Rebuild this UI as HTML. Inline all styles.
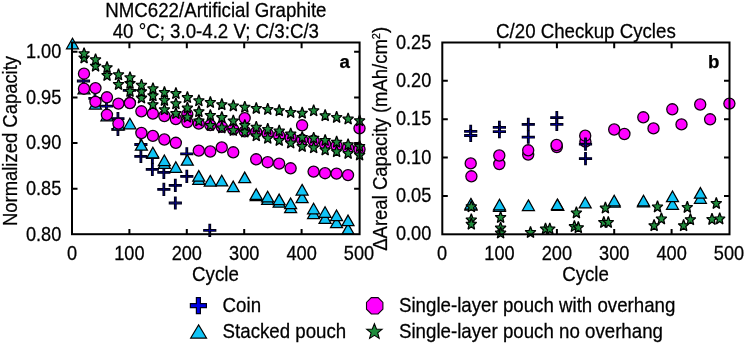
<!DOCTYPE html>
<html><head><meta charset="utf-8"><style>
html,body{margin:0;padding:0;background:#fff;}
svg{display:block;filter:blur(0.3px);}
text{font-family:"Liberation Sans",sans-serif;font-size:18.7px;fill:#000;stroke:#000;stroke-width:0.25px;}
</style></head><body>
<svg width="745" height="352" viewBox="0 0 745 352">
<style>
.pl{fill:#0000e8;stroke:#000018;stroke-width:1.2px}
.tr{fill:#10c4f6;stroke:#000;stroke-width:1.25px;stroke-linejoin:miter}
.ci{fill:#ff00ff;stroke:#100010;stroke-width:1.3px}
.st{fill:#1f8c3c;stroke:#000;stroke-width:1.25px;stroke-linejoin:miter;stroke-miterlimit:2.6}
</style>
<g><polygon class="pl" points="82.68,75.00 84.28,75.00 84.28,80.20 89.48,80.20 89.48,81.80 84.28,81.80 84.28,87.00 82.68,87.00 82.68,81.80 77.48,81.80 77.48,80.20 82.68,80.20"/>
<polygon class="pl" points="94.16,92.40 95.76,92.40 95.76,97.60 100.96,97.60 100.96,99.20 95.76,99.20 95.76,104.40 94.16,104.40 94.16,99.20 88.96,99.20 88.96,97.60 94.16,97.60"/>
<polygon class="pl" points="105.64,100.20 107.24,100.20 107.24,105.40 112.44,105.40 112.44,107.00 107.24,107.00 107.24,112.20 105.64,112.20 105.64,107.00 100.44,107.00 100.44,105.40 105.64,105.40"/>
<polygon class="pl" points="117.12,112.60 118.72,112.60 118.72,117.80 123.92,117.80 123.92,119.40 118.72,119.40 118.72,124.60 117.12,124.60 117.12,119.40 111.92,119.40 111.92,117.80 117.12,117.80"/>
<polygon class="pl" points="117.12,123.30 118.72,123.30 118.72,128.50 123.92,128.50 123.92,130.10 118.72,130.10 118.72,135.30 117.12,135.30 117.12,130.10 111.92,130.10 111.92,128.50 117.12,128.50"/>
<polygon class="pl" points="128.60,84.30 130.20,84.30 130.20,89.50 135.40,89.50 135.40,91.10 130.20,91.10 130.20,96.30 128.60,96.30 128.60,91.10 123.40,91.10 123.40,89.50 128.60,89.50"/>
<polygon class="pl" points="140.08,138.50 141.68,138.50 141.68,143.70 146.88,143.70 146.88,145.30 141.68,145.30 141.68,150.50 140.08,150.50 140.08,145.30 134.88,145.30 134.88,143.70 140.08,143.70"/>
<polygon class="pl" points="140.08,150.40 141.68,150.40 141.68,155.60 146.88,155.60 146.88,157.20 141.68,157.20 141.68,162.40 140.08,162.40 140.08,157.20 134.88,157.20 134.88,155.60 140.08,155.60"/>
<polygon class="pl" points="151.56,151.50 153.16,151.50 153.16,156.70 158.36,156.70 158.36,158.30 153.16,158.30 153.16,163.50 151.56,163.50 151.56,158.30 146.36,158.30 146.36,156.70 151.56,156.70"/>
<polygon class="pl" points="151.56,163.40 153.16,163.40 153.16,168.60 158.36,168.60 158.36,170.20 153.16,170.20 153.16,175.40 151.56,175.40 151.56,170.20 146.36,170.20 146.36,168.60 151.56,168.60"/>
<polygon class="pl" points="163.04,166.40 164.64,166.40 164.64,171.60 169.84,171.60 169.84,173.20 164.64,173.20 164.64,178.40 163.04,178.40 163.04,173.20 157.84,173.20 157.84,171.60 163.04,171.60"/>
<polygon class="pl" points="163.04,183.40 164.64,183.40 164.64,188.60 169.84,188.60 169.84,190.20 164.64,190.20 164.64,195.40 163.04,195.40 163.04,190.20 157.84,190.20 157.84,188.60 163.04,188.60"/>
<polygon class="pl" points="174.52,179.40 176.12,179.40 176.12,184.60 181.32,184.60 181.32,186.20 176.12,186.20 176.12,191.40 174.52,191.40 174.52,186.20 169.32,186.20 169.32,184.60 174.52,184.60"/>
<polygon class="pl" points="174.52,197.00 176.12,197.00 176.12,202.20 181.32,202.20 181.32,203.80 176.12,203.80 176.12,209.00 174.52,209.00 174.52,203.80 169.32,203.80 169.32,202.20 174.52,202.20"/>
<polygon class="pl" points="186.00,147.80 187.60,147.80 187.60,153.00 192.80,153.00 192.80,154.60 187.60,154.60 187.60,159.80 186.00,159.80 186.00,154.60 180.80,154.60 180.80,153.00 186.00,153.00"/>
<polygon class="pl" points="186.00,170.40 187.60,170.40 187.60,175.60 192.80,175.60 192.80,177.20 187.60,177.20 187.60,182.40 186.00,182.40 186.00,177.20 180.80,177.20 180.80,175.60 186.00,175.60"/>
<polygon class="pl" points="208.96,224.30 210.56,224.30 210.56,229.50 215.76,229.50 215.76,231.10 210.56,231.10 210.56,236.30 208.96,236.30 208.96,231.10 203.76,231.10 203.76,229.50 208.96,229.50"/>
<polygon class="tr" points="348.02,223.60 354.02,234.20 342.02,234.20"/>
<polygon class="tr" points="336.54,217.10 342.54,227.70 330.54,227.70"/>
<polygon class="tr" points="348.02,215.10 354.02,225.70 342.02,225.70"/>
<polygon class="tr" points="325.06,212.80 331.06,223.40 319.06,223.40"/>
<polygon class="tr" points="336.54,210.00 342.54,220.60 330.54,220.60"/>
<polygon class="tr" points="313.58,208.00 319.58,218.60 307.58,218.60"/>
<polygon class="tr" points="325.06,206.70 331.06,217.30 319.06,217.30"/>
<polygon class="tr" points="313.58,203.20 319.58,213.80 307.58,213.80"/>
<polygon class="tr" points="290.62,202.00 296.62,212.60 284.62,212.60"/>
<polygon class="tr" points="290.62,198.00 296.62,208.60 284.62,208.60"/>
<polygon class="tr" points="279.14,196.60 285.14,207.20 273.14,207.20"/>
<polygon class="tr" points="279.14,194.10 285.14,204.70 273.14,204.70"/>
<polygon class="tr" points="267.66,193.80 273.66,204.40 261.66,204.40"/>
<polygon class="tr" points="302.10,192.10 308.10,202.70 296.10,202.70"/>
<polygon class="tr" points="267.66,191.30 273.66,201.90 261.66,201.90"/>
<polygon class="tr" points="256.18,190.10 262.18,200.70 250.18,200.70"/>
<polygon class="tr" points="256.18,188.80 262.18,199.40 250.18,199.40"/>
<polygon class="tr" points="302.10,184.40 308.10,195.00 296.10,195.00"/>
<polygon class="tr" points="233.22,181.10 239.22,191.70 227.22,191.70"/>
<polygon class="tr" points="210.26,175.40 216.26,186.00 204.26,186.00"/>
<polygon class="tr" points="221.74,175.30 227.74,185.90 215.74,185.90"/>
<polygon class="tr" points="198.78,173.80 204.78,184.40 192.78,184.40"/>
<polygon class="tr" points="244.70,172.10 250.70,182.70 238.70,182.70"/>
<polygon class="tr" points="198.78,170.60 204.78,181.20 192.78,181.20"/>
<polygon class="tr" points="175.82,161.80 181.82,172.40 169.82,172.40"/>
<polygon class="tr" points="164.34,157.80 170.34,168.40 158.34,168.40"/>
<polygon class="tr" points="164.34,155.00 170.34,165.60 158.34,165.60"/>
<polygon class="tr" points="187.30,154.60 193.30,165.20 181.30,165.20"/>
<polygon class="tr" points="152.86,147.30 158.86,157.90 146.86,157.90"/>
<polygon class="tr" points="141.38,139.60 147.38,150.20 135.38,150.20"/>
<polygon class="tr" points="118.42,119.30 124.42,129.90 112.42,129.90"/>
<polygon class="tr" points="129.90,118.20 135.90,128.80 123.90,128.80"/>
<polygon class="tr" points="106.94,110.20 112.94,120.80 100.94,120.80"/>
<polygon class="tr" points="95.46,98.50 101.46,109.10 89.46,109.10"/>
<polygon class="tr" points="83.98,83.30 89.98,93.90 77.98,93.90"/>
<polygon class="tr" points="72.50,38.20 78.50,48.80 66.50,48.80"/>
<circle class="ci" cx="83.98" cy="88.70" r="5.55"/>
<circle class="ci" cx="95.46" cy="101.80" r="5.55"/>
<circle class="ci" cx="106.94" cy="114.80" r="5.55"/>
<circle class="ci" cx="118.42" cy="123.60" r="5.55"/>
<circle class="ci" cx="141.38" cy="133.00" r="5.55"/>
<circle class="ci" cx="152.86" cy="135.90" r="5.55"/>
<circle class="ci" cx="164.34" cy="139.50" r="5.55"/>
<circle class="ci" cx="175.82" cy="142.80" r="5.55"/>
<circle class="ci" cx="198.78" cy="150.60" r="5.55"/>
<circle class="ci" cx="210.26" cy="151.50" r="5.55"/>
<circle class="ci" cx="221.74" cy="147.40" r="5.55"/>
<circle class="ci" cx="233.22" cy="152.30" r="5.55"/>
<circle class="ci" cx="256.18" cy="159.30" r="5.55"/>
<circle class="ci" cx="267.66" cy="162.20" r="5.55"/>
<circle class="ci" cx="279.14" cy="163.60" r="5.55"/>
<circle class="ci" cx="290.62" cy="168.30" r="5.55"/>
<circle class="ci" cx="313.58" cy="171.60" r="5.55"/>
<circle class="ci" cx="325.06" cy="173.20" r="5.55"/>
<circle class="ci" cx="336.54" cy="173.60" r="5.55"/>
<circle class="ci" cx="348.02" cy="175.10" r="5.55"/>
<circle class="ci" cx="83.98" cy="73.70" r="5.55"/>
<circle class="ci" cx="95.46" cy="88.10" r="5.55"/>
<circle class="ci" cx="106.94" cy="97.30" r="5.55"/>
<circle class="ci" cx="118.42" cy="103.60" r="5.55"/>
<circle class="ci" cx="129.90" cy="102.80" r="5.55"/>
<circle class="ci" cx="141.38" cy="111.30" r="5.55"/>
<circle class="ci" cx="152.86" cy="113.60" r="5.55"/>
<circle class="ci" cx="164.34" cy="116.00" r="5.55"/>
<circle class="ci" cx="175.82" cy="119.00" r="5.55"/>
<circle class="ci" cx="187.30" cy="122.10" r="5.55"/>
<circle class="ci" cx="198.78" cy="123.60" r="5.55"/>
<circle class="ci" cx="210.26" cy="125.10" r="5.55"/>
<circle class="ci" cx="221.74" cy="126.80" r="5.55"/>
<circle class="ci" cx="233.22" cy="129.30" r="5.55"/>
<circle class="ci" cx="244.70" cy="131.40" r="5.55"/>
<circle class="ci" cx="256.18" cy="132.20" r="5.55"/>
<circle class="ci" cx="267.66" cy="133.90" r="5.55"/>
<circle class="ci" cx="279.14" cy="135.60" r="5.55"/>
<circle class="ci" cx="290.62" cy="137.50" r="5.55"/>
<circle class="ci" cx="302.10" cy="139.80" r="5.55"/>
<circle class="ci" cx="313.58" cy="140.80" r="5.55"/>
<circle class="ci" cx="325.06" cy="144.10" r="5.55"/>
<circle class="ci" cx="336.54" cy="145.80" r="5.55"/>
<circle class="ci" cx="348.02" cy="147.80" r="5.55"/>
<circle class="ci" cx="359.50" cy="149.30" r="5.55"/>
<circle class="ci" cx="129.90" cy="103.10" r="5.55"/>
<circle class="ci" cx="187.30" cy="114.30" r="5.55"/>
<circle class="ci" cx="244.70" cy="118.10" r="5.55"/>
<circle class="ci" cx="302.10" cy="125.30" r="5.55"/>
<circle class="ci" cx="359.50" cy="128.30" r="5.55"/>
<polygon class="st" points="130.00,85.24 131.41,89.26 135.33,89.50 132.28,92.22 133.29,96.38 130.00,94.04 126.71,96.38 127.72,92.22 124.67,89.50 128.59,89.26"/>
<polygon class="st" points="141.48,91.94 142.89,95.96 146.81,96.20 143.76,98.92 144.77,103.08 141.48,100.74 138.19,103.08 139.20,98.92 136.15,96.20 140.07,95.96"/>
<polygon class="st" points="152.96,98.54 154.37,102.56 158.29,102.80 155.24,105.52 156.25,109.68 152.96,107.34 149.67,109.68 150.68,105.52 147.63,102.80 151.55,102.56"/>
<polygon class="st" points="164.44,103.64 165.85,107.66 169.77,107.90 166.72,110.62 167.73,114.78 164.44,112.44 161.15,114.78 162.16,110.62 159.11,107.90 163.03,107.66"/>
<polygon class="st" points="175.92,107.44 177.33,111.46 181.25,111.70 178.20,114.42 179.21,118.58 175.92,116.24 172.63,118.58 173.64,114.42 170.59,111.70 174.51,111.46"/>
<polygon class="st" points="187.40,111.04 188.81,115.06 192.73,115.30 189.68,118.02 190.69,122.18 187.40,119.84 184.11,122.18 185.12,118.02 182.07,115.30 185.99,115.06"/>
<polygon class="st" points="198.88,114.84 200.29,118.86 204.21,119.10 201.16,121.82 202.17,125.98 198.88,123.64 195.59,125.98 196.60,121.82 193.55,119.10 197.47,118.86"/>
<polygon class="st" points="210.36,119.34 211.77,123.36 215.69,123.60 212.64,126.32 213.65,130.48 210.36,128.14 207.07,130.48 208.08,126.32 205.03,123.60 208.95,123.36"/>
<polygon class="st" points="221.84,121.74 223.25,125.76 227.17,126.00 224.12,128.72 225.13,132.88 221.84,130.54 218.55,132.88 219.56,128.72 216.51,126.00 220.43,125.76"/>
<polygon class="st" points="233.32,124.24 234.73,128.26 238.65,128.50 235.60,131.22 236.61,135.38 233.32,133.04 230.03,135.38 231.04,131.22 227.99,128.50 231.91,128.26"/>
<polygon class="st" points="244.80,125.94 246.21,129.96 250.13,130.20 247.08,132.92 248.09,137.08 244.80,134.74 241.51,137.08 242.52,132.92 239.47,130.20 243.39,129.96"/>
<polygon class="st" points="256.28,129.64 257.69,133.66 261.61,133.90 258.56,136.62 259.57,140.78 256.28,138.44 252.99,140.78 254.00,136.62 250.95,133.90 254.87,133.66"/>
<polygon class="st" points="267.76,132.14 269.17,136.16 273.09,136.40 270.04,139.12 271.05,143.28 267.76,140.94 264.47,143.28 265.48,139.12 262.43,136.40 266.35,136.16"/>
<polygon class="st" points="279.24,134.34 280.65,138.36 284.57,138.60 281.52,141.32 282.53,145.48 279.24,143.14 275.95,145.48 276.96,141.32 273.91,138.60 277.83,138.36"/>
<polygon class="st" points="290.72,136.94 292.13,140.96 296.05,141.20 293.00,143.92 294.01,148.08 290.72,145.74 287.43,148.08 288.44,143.92 285.39,141.20 289.31,140.96"/>
<polygon class="st" points="302.20,140.34 303.61,144.36 307.53,144.60 304.48,147.32 305.49,151.48 302.20,149.14 298.91,151.48 299.92,147.32 296.87,144.60 300.79,144.36"/>
<polygon class="st" points="313.68,141.64 315.09,145.66 319.01,145.90 315.96,148.62 316.97,152.78 313.68,150.44 310.39,152.78 311.40,148.62 308.35,145.90 312.27,145.66"/>
<polygon class="st" points="325.16,143.84 326.57,147.86 330.49,148.10 327.44,150.82 328.45,154.98 325.16,152.64 321.87,154.98 322.88,150.82 319.83,148.10 323.75,147.86"/>
<polygon class="st" points="336.64,145.54 338.05,149.56 341.97,149.80 338.92,152.52 339.93,156.68 336.64,154.34 333.35,156.68 334.36,152.52 331.31,149.80 335.23,149.56"/>
<polygon class="st" points="348.12,147.24 349.53,151.26 353.45,151.50 350.40,154.22 351.41,158.38 348.12,156.04 344.83,158.38 345.84,154.22 342.79,151.50 346.71,151.26"/>
<polygon class="st" points="359.60,148.94 361.01,152.96 364.93,153.20 361.88,155.92 362.89,160.08 359.60,157.74 356.31,160.08 357.32,155.92 354.27,153.20 358.19,152.96"/>
<polygon class="st" points="84.08,51.84 85.49,55.86 89.41,56.10 86.36,58.82 87.37,62.98 84.08,60.64 80.79,62.98 81.80,58.82 78.75,56.10 82.67,55.86"/>
<polygon class="st" points="95.56,60.04 96.97,64.06 100.89,64.30 97.84,67.02 98.85,71.18 95.56,68.84 92.27,71.18 93.28,67.02 90.23,64.30 94.15,64.06"/>
<polygon class="st" points="107.04,69.34 108.45,73.36 112.37,73.60 109.32,76.32 110.33,80.48 107.04,78.14 103.75,80.48 104.76,76.32 101.71,73.60 105.63,73.36"/>
<polygon class="st" points="118.52,78.34 119.93,82.36 123.85,82.60 120.80,85.32 121.81,89.48 118.52,87.14 115.23,89.48 116.24,85.32 113.19,82.60 117.11,82.36"/>
<polygon class="st" points="130.00,77.34 131.41,81.36 135.33,81.60 132.28,84.32 133.29,88.48 130.00,86.14 126.71,88.48 127.72,84.32 124.67,81.60 128.59,81.36"/>
<polygon class="st" points="141.48,85.54 142.89,89.56 146.81,89.80 143.76,92.52 144.77,96.68 141.48,94.34 138.19,96.68 139.20,92.52 136.15,89.80 140.07,89.56"/>
<polygon class="st" points="152.96,89.64 154.37,93.66 158.29,93.90 155.24,96.62 156.25,100.78 152.96,98.44 149.67,100.78 150.68,96.62 147.63,93.90 151.55,93.66"/>
<polygon class="st" points="164.44,94.24 165.85,98.26 169.77,98.50 166.72,101.22 167.73,105.38 164.44,103.04 161.15,105.38 162.16,101.22 159.11,98.50 163.03,98.26"/>
<polygon class="st" points="175.92,97.64 177.33,101.66 181.25,101.90 178.20,104.62 179.21,108.78 175.92,106.44 172.63,108.78 173.64,104.62 170.59,101.90 174.51,101.66"/>
<polygon class="st" points="187.40,101.94 188.81,105.96 192.73,106.20 189.68,108.92 190.69,113.08 187.40,110.74 184.11,113.08 185.12,108.92 182.07,106.20 185.99,105.96"/>
<polygon class="st" points="198.88,105.54 200.29,109.56 204.21,109.80 201.16,112.52 202.17,116.68 198.88,114.34 195.59,116.68 196.60,112.52 193.55,109.80 197.47,109.56"/>
<polygon class="st" points="210.36,109.34 211.77,113.36 215.69,113.60 212.64,116.32 213.65,120.48 210.36,118.14 207.07,120.48 208.08,116.32 205.03,113.60 208.95,113.36"/>
<polygon class="st" points="221.84,111.44 223.25,115.46 227.17,115.70 224.12,118.42 225.13,122.58 221.84,120.24 218.55,122.58 219.56,118.42 216.51,115.70 220.43,115.46"/>
<polygon class="st" points="233.32,114.84 234.73,118.86 238.65,119.10 235.60,121.82 236.61,125.98 233.32,123.64 230.03,125.98 231.04,121.82 227.99,119.10 231.91,118.86"/>
<polygon class="st" points="244.80,119.34 246.21,123.36 250.13,123.60 247.08,126.32 248.09,130.48 244.80,128.14 241.51,130.48 242.52,126.32 239.47,123.60 243.39,123.36"/>
<polygon class="st" points="256.28,121.14 257.69,125.16 261.61,125.40 258.56,128.12 259.57,132.28 256.28,129.94 252.99,132.28 254.00,128.12 250.95,125.40 254.87,125.16"/>
<polygon class="st" points="267.76,123.24 269.17,127.26 273.09,127.50 270.04,130.22 271.05,134.38 267.76,132.04 264.47,134.38 265.48,130.22 262.43,127.50 266.35,127.26"/>
<polygon class="st" points="279.24,124.94 280.65,128.96 284.57,129.20 281.52,131.92 282.53,136.08 279.24,133.74 275.95,136.08 276.96,131.92 273.91,129.20 277.83,128.96"/>
<polygon class="st" points="290.72,127.94 292.13,131.96 296.05,132.20 293.00,134.92 294.01,139.08 290.72,136.74 287.43,139.08 288.44,134.92 285.39,132.20 289.31,131.96"/>
<polygon class="st" points="302.20,131.34 303.61,135.36 307.53,135.60 304.48,138.32 305.49,142.48 302.20,140.14 298.91,142.48 299.92,138.32 296.87,135.60 300.79,135.36"/>
<polygon class="st" points="313.68,132.14 315.09,136.16 319.01,136.40 315.96,139.12 316.97,143.28 313.68,140.94 310.39,143.28 311.40,139.12 308.35,136.40 312.27,136.16"/>
<polygon class="st" points="325.16,134.34 326.57,138.36 330.49,138.60 327.44,141.32 328.45,145.48 325.16,143.14 321.87,145.48 322.88,141.32 319.83,138.60 323.75,138.36"/>
<polygon class="st" points="336.64,136.04 338.05,140.06 341.97,140.30 338.92,143.02 339.93,147.18 336.64,144.84 333.35,147.18 334.36,143.02 331.31,140.30 335.23,140.06"/>
<polygon class="st" points="348.12,138.64 349.53,142.66 353.45,142.90 350.40,145.62 351.41,149.78 348.12,147.44 344.83,149.78 345.84,145.62 342.79,142.90 346.71,142.66"/>
<polygon class="st" points="359.60,140.34 361.01,144.36 364.93,144.60 361.88,147.32 362.89,151.48 359.60,149.14 356.31,151.48 357.32,147.32 354.27,144.60 358.19,144.36"/>
<polygon class="st" points="84.08,47.64 85.49,51.66 89.41,51.90 86.36,54.62 87.37,58.78 84.08,56.44 80.79,58.78 81.80,54.62 78.75,51.90 82.67,51.66"/>
<polygon class="st" points="95.56,53.64 96.97,57.66 100.89,57.90 97.84,60.62 98.85,64.78 95.56,62.44 92.27,64.78 93.28,60.62 90.23,57.90 94.15,57.66"/>
<polygon class="st" points="107.04,61.54 108.45,65.56 112.37,65.80 109.32,68.52 110.33,72.68 107.04,70.34 103.75,72.68 104.76,68.52 101.71,65.80 105.63,65.56"/>
<polygon class="st" points="118.52,68.64 119.93,72.66 123.85,72.90 120.80,75.62 121.81,79.78 118.52,77.44 115.23,79.78 116.24,75.62 113.19,72.90 117.11,72.66"/>
<polygon class="st" points="130.00,71.64 131.41,75.66 135.33,75.90 132.28,78.62 133.29,82.78 130.00,80.44 126.71,82.78 127.72,78.62 124.67,75.90 128.59,75.66"/>
<polygon class="st" points="141.48,79.14 142.89,83.16 146.81,83.40 143.76,86.12 144.77,90.28 141.48,87.94 138.19,90.28 139.20,86.12 136.15,83.40 140.07,83.16"/>
<polygon class="st" points="152.96,82.64 154.37,86.66 158.29,86.90 155.24,89.62 156.25,93.78 152.96,91.44 149.67,93.78 150.68,89.62 147.63,86.90 151.55,86.66"/>
<polygon class="st" points="164.44,86.34 165.85,90.36 169.77,90.60 166.72,93.32 167.73,97.48 164.44,95.14 161.15,97.48 162.16,93.32 159.11,90.60 163.03,90.36"/>
<polygon class="st" points="175.92,87.44 177.33,91.46 181.25,91.70 178.20,94.42 179.21,98.58 175.92,96.24 172.63,98.58 173.64,94.42 170.59,91.70 174.51,91.46"/>
<polygon class="st" points="187.40,91.44 188.81,95.46 192.73,95.70 189.68,98.42 190.69,102.58 187.40,100.24 184.11,102.58 185.12,98.42 182.07,95.70 185.99,95.46"/>
<polygon class="st" points="198.88,94.64 200.29,98.66 204.21,98.90 201.16,101.62 202.17,105.78 198.88,103.44 195.59,105.78 196.60,101.62 193.55,98.90 197.47,98.66"/>
<polygon class="st" points="210.36,96.34 211.77,100.36 215.69,100.60 212.64,103.32 213.65,107.48 210.36,105.14 207.07,107.48 208.08,103.32 205.03,100.60 208.95,100.36"/>
<polygon class="st" points="221.84,98.54 223.25,102.56 227.17,102.80 224.12,105.52 225.13,109.68 221.84,107.34 218.55,109.68 219.56,105.52 216.51,102.80 220.43,102.56"/>
<polygon class="st" points="233.32,99.74 234.73,103.76 238.65,104.00 235.60,106.72 236.61,110.88 233.32,108.54 230.03,110.88 231.04,106.72 227.99,104.00 231.91,103.76"/>
<polygon class="st" points="244.80,101.14 246.21,105.16 250.13,105.40 247.08,108.12 248.09,112.28 244.80,109.94 241.51,112.28 242.52,108.12 239.47,105.40 243.39,105.16"/>
<polygon class="st" points="256.28,102.34 257.69,106.36 261.61,106.60 258.56,109.32 259.57,113.48 256.28,111.14 252.99,113.48 254.00,109.32 250.95,106.60 254.87,106.36"/>
<polygon class="st" points="267.76,103.24 269.17,107.26 273.09,107.50 270.04,110.22 271.05,114.38 267.76,112.04 264.47,114.38 265.48,110.22 262.43,107.50 266.35,107.26"/>
<polygon class="st" points="279.24,104.54 280.65,108.56 284.57,108.80 281.52,111.52 282.53,115.68 279.24,113.34 275.95,115.68 276.96,111.52 273.91,108.80 277.83,108.56"/>
<polygon class="st" points="290.72,106.24 292.13,110.26 296.05,110.50 293.00,113.22 294.01,117.38 290.72,115.04 287.43,117.38 288.44,113.22 285.39,110.50 289.31,110.26"/>
<polygon class="st" points="302.20,107.04 303.61,111.06 307.53,111.30 304.48,114.02 305.49,118.18 302.20,115.84 298.91,118.18 299.92,114.02 296.87,111.30 300.79,111.06"/>
<polygon class="st" points="313.68,104.64 315.09,108.66 319.01,108.90 315.96,111.62 316.97,115.78 313.68,113.44 310.39,115.78 311.40,111.62 308.35,108.90 312.27,108.66"/>
<polygon class="st" points="325.16,109.54 326.57,113.56 330.49,113.80 327.44,116.52 328.45,120.68 325.16,118.34 321.87,120.68 322.88,116.52 319.83,113.80 323.75,113.56"/>
<polygon class="st" points="336.64,111.24 338.05,115.26 341.97,115.50 338.92,118.22 339.93,122.38 336.64,120.04 333.35,122.38 334.36,118.22 331.31,115.50 335.23,115.26"/>
<polygon class="st" points="348.12,112.94 349.53,116.96 353.45,117.20 350.40,119.92 351.41,124.08 348.12,121.74 344.83,124.08 345.84,119.92 342.79,117.20 346.71,116.96"/>
<polygon class="st" points="359.60,114.64 361.01,118.66 364.93,118.90 361.88,121.62 362.89,125.78 359.60,123.44 356.31,125.78 357.32,121.62 354.27,118.90 358.19,118.66"/></g>
<g><polygon class="tr" points="499.50,200.80 505.50,211.40 493.50,211.40"/>
<polygon class="tr" points="528.40,199.90 534.40,210.50 522.40,210.50"/>
<polygon class="tr" points="557.80,199.80 563.80,210.40 551.80,210.40"/>
<polygon class="tr" points="471.00,199.40 477.00,210.00 465.00,210.00"/>
<polygon class="tr" points="499.50,199.30 505.50,209.90 493.50,209.90"/>
<polygon class="tr" points="557.40,199.10 563.40,209.70 551.40,209.70"/>
<polygon class="tr" points="672.50,198.70 678.50,209.30 666.50,209.30"/>
<polygon class="tr" points="470.90,198.40 476.90,209.00 464.90,209.00"/>
<polygon class="tr" points="585.20,197.30 591.20,207.90 579.20,207.90"/>
<polygon class="tr" points="614.20,196.60 620.20,207.20 608.20,207.20"/>
<polygon class="tr" points="643.50,196.30 649.50,206.90 637.50,206.90"/>
<polygon class="tr" points="614.20,195.30 620.20,205.90 608.20,205.90"/>
<polygon class="tr" points="643.50,195.30 649.50,205.90 637.50,205.90"/>
<polygon class="tr" points="700.40,192.70 706.40,203.30 694.40,203.30"/>
<polygon class="tr" points="672.50,191.00 678.50,201.60 666.50,201.60"/>
<polygon class="tr" points="700.40,187.60 706.40,198.20 694.40,198.20"/>
<circle class="ci" cx="471.40" cy="176.30" r="5.55"/>
<circle class="ci" cx="499.30" cy="164.00" r="5.55"/>
<circle class="ci" cx="470.70" cy="163.40" r="5.55"/>
<circle class="ci" cx="499.30" cy="155.50" r="5.55"/>
<circle class="ci" cx="528.20" cy="154.50" r="5.55"/>
<circle class="ci" cx="528.20" cy="150.30" r="5.55"/>
<circle class="ci" cx="556.80" cy="147.00" r="5.55"/>
<circle class="ci" cx="556.60" cy="145.00" r="5.55"/>
<circle class="ci" cx="585.40" cy="141.60" r="5.55"/>
<circle class="ci" cx="585.20" cy="135.70" r="5.55"/>
<circle class="ci" cx="624.40" cy="134.00" r="5.55"/>
<circle class="ci" cx="614.20" cy="129.50" r="5.55"/>
<circle class="ci" cx="653.50" cy="128.40" r="5.55"/>
<circle class="ci" cx="681.50" cy="124.40" r="5.55"/>
<circle class="ci" cx="710.10" cy="119.30" r="5.55"/>
<circle class="ci" cx="643.30" cy="117.30" r="5.55"/>
<circle class="ci" cx="672.30" cy="109.30" r="5.55"/>
<circle class="ci" cx="700.20" cy="104.50" r="5.55"/>
<circle class="ci" cx="729.40" cy="103.60" r="5.55"/>
<polygon class="pl" points="469.90,125.30 471.50,125.30 471.50,130.50 476.70,130.50 476.70,132.10 471.50,132.10 471.50,137.30 469.90,137.30 469.90,132.10 464.70,132.10 464.70,130.50 469.90,130.50"/>
<polygon class="pl" points="469.90,129.50 471.50,129.50 471.50,134.70 476.70,134.70 476.70,136.30 471.50,136.30 471.50,141.50 469.90,141.50 469.90,136.30 464.70,136.30 464.70,134.70 469.90,134.70"/>
<polygon class="pl" points="498.60,121.30 500.20,121.30 500.20,126.50 505.40,126.50 505.40,128.10 500.20,128.10 500.20,133.30 498.60,133.30 498.60,128.10 493.40,128.10 493.40,126.50 498.60,126.50"/>
<polygon class="pl" points="498.60,125.70 500.20,125.70 500.20,130.90 505.40,130.90 505.40,132.50 500.20,132.50 500.20,137.70 498.60,137.70 498.60,132.50 493.40,132.50 493.40,130.90 498.60,130.90"/>
<polygon class="pl" points="527.50,118.40 529.10,118.40 529.10,123.60 534.30,123.60 534.30,125.20 529.10,125.20 529.10,130.40 527.50,130.40 527.50,125.20 522.30,125.20 522.30,123.60 527.50,123.60"/>
<polygon class="pl" points="527.50,131.20 529.10,131.20 529.10,136.40 534.30,136.40 534.30,138.00 529.10,138.00 529.10,143.20 527.50,143.20 527.50,138.00 522.30,138.00 522.30,136.40 527.50,136.40"/>
<polygon class="pl" points="556.00,111.60 557.60,111.60 557.60,116.80 562.80,116.80 562.80,118.40 557.60,118.40 557.60,123.60 556.00,123.60 556.00,118.40 550.80,118.40 550.80,116.80 556.00,116.80"/>
<polygon class="pl" points="556.00,118.30 557.60,118.30 557.60,123.50 562.80,123.50 562.80,125.10 557.60,125.10 557.60,130.30 556.00,130.30 556.00,125.10 550.80,125.10 550.80,123.50 556.00,123.50"/>
<polygon class="pl" points="584.70,138.10 586.30,138.10 586.30,143.30 591.50,143.30 591.50,144.90 586.30,144.90 586.30,150.10 584.70,150.10 584.70,144.90 579.50,144.90 579.50,143.30 584.70,143.30"/>
<polygon class="pl" points="584.70,152.60 586.30,152.60 586.30,157.80 591.50,157.80 591.50,159.40 586.30,159.40 586.30,164.60 584.70,164.60 584.70,159.40 579.50,159.40 579.50,157.80 584.70,157.80"/>
<polygon class="st" points="471.30,200.64 472.71,204.66 476.63,204.90 473.58,207.62 474.59,211.78 471.30,209.44 468.01,211.78 469.02,207.62 465.97,204.90 469.89,204.66"/>
<polygon class="st" points="471.30,213.74 472.71,217.76 476.63,218.00 473.58,220.72 474.59,224.88 471.30,222.54 468.01,224.88 469.02,220.72 465.97,218.00 469.89,217.76"/>
<polygon class="st" points="471.30,218.04 472.71,222.06 476.63,222.30 473.58,225.02 474.59,229.18 471.30,226.84 468.01,229.18 469.02,225.02 465.97,222.30 469.89,222.06"/>
<polygon class="st" points="500.60,211.34 502.01,215.36 505.93,215.60 502.88,218.32 503.89,222.48 500.60,220.14 497.31,222.48 498.32,218.32 495.27,215.60 499.19,215.36"/>
<polygon class="st" points="500.60,221.94 502.01,225.96 505.93,226.20 502.88,228.92 503.89,233.08 500.60,230.74 497.31,233.08 498.32,228.92 495.27,226.20 499.19,225.96"/>
<polygon class="st" points="500.60,226.94 502.01,230.96 505.93,231.20 502.88,233.92 503.89,238.08 500.60,235.74 497.31,238.08 498.32,233.92 495.27,231.20 499.19,230.96"/>
<polygon class="st" points="530.50,226.34 531.91,230.36 535.83,230.60 532.78,233.32 533.79,237.48 530.50,235.14 527.21,237.48 528.22,233.32 525.17,230.60 529.09,230.36"/>
<polygon class="st" points="545.50,222.84 546.91,226.86 550.83,227.10 547.78,229.82 548.79,233.98 545.50,231.64 542.21,233.98 543.22,229.82 540.17,227.10 544.09,226.86"/>
<polygon class="st" points="549.80,222.84 551.21,226.86 555.13,227.10 552.08,229.82 553.09,233.98 549.80,231.64 546.51,233.98 547.52,229.82 544.47,227.10 548.39,226.86"/>
<polygon class="st" points="576.40,206.74 577.81,210.76 581.73,211.00 578.68,213.72 579.69,217.88 576.40,215.54 573.11,217.88 574.12,213.72 571.07,211.00 574.99,210.76"/>
<polygon class="st" points="574.40,220.44 575.81,224.46 579.73,224.70 576.68,227.42 577.69,231.58 574.40,229.24 571.11,231.58 572.12,227.42 569.07,224.70 572.99,224.46"/>
<polygon class="st" points="578.30,221.54 579.71,225.56 583.63,225.80 580.58,228.52 581.59,232.68 578.30,230.34 575.01,232.68 576.02,228.52 572.97,225.80 576.89,225.56"/>
<polygon class="st" points="605.40,201.94 606.81,205.96 610.73,206.20 607.68,208.92 608.69,213.08 605.40,210.74 602.11,213.08 603.12,208.92 600.07,206.20 603.99,205.96"/>
<polygon class="st" points="603.80,216.34 605.21,220.36 609.13,220.60 606.08,223.32 607.09,227.48 603.80,225.14 600.51,227.48 601.52,223.32 598.47,220.60 602.39,220.36"/>
<polygon class="st" points="608.30,216.34 609.71,220.36 613.63,220.60 610.58,223.32 611.59,227.48 608.30,225.14 605.01,227.48 606.02,223.32 602.97,220.60 606.89,220.36"/>
<polygon class="st" points="657.50,200.74 658.91,204.76 662.83,205.00 659.78,207.72 660.79,211.88 657.50,209.54 654.21,211.88 655.22,207.72 652.17,205.00 656.09,204.76"/>
<polygon class="st" points="661.40,212.74 662.81,216.76 666.73,217.00 663.68,219.72 664.69,223.88 661.40,221.54 658.11,223.88 659.12,219.72 656.07,217.00 659.99,216.76"/>
<polygon class="st" points="654.10,219.54 655.51,223.56 659.43,223.80 656.38,226.52 657.39,230.68 654.10,228.34 650.81,230.68 651.82,226.52 648.77,223.80 652.69,223.56"/>
<polygon class="st" points="687.30,201.24 688.71,205.26 692.63,205.50 689.58,208.22 690.59,212.38 687.30,210.04 684.01,212.38 685.02,208.22 681.97,205.50 685.89,205.26"/>
<polygon class="st" points="690.40,213.54 691.81,217.56 695.73,217.80 692.68,220.52 693.69,224.68 690.40,222.34 687.11,224.68 688.12,220.52 685.07,217.80 688.99,217.56"/>
<polygon class="st" points="683.60,219.54 685.01,223.56 688.93,223.80 685.88,226.52 686.89,230.68 683.60,228.34 680.31,230.68 681.32,226.52 678.27,223.80 682.19,223.56"/>
<polygon class="st" points="716.30,197.34 717.71,201.36 721.63,201.60 718.58,204.32 719.59,208.48 716.30,206.14 713.01,208.48 714.02,204.32 710.97,201.60 714.89,201.36"/>
<polygon class="st" points="712.00,213.24 713.41,217.26 717.33,217.50 714.28,220.22 715.29,224.38 712.00,222.04 708.71,224.38 709.72,220.22 706.67,217.50 710.59,217.26"/>
<polygon class="st" points="719.70,212.74 721.11,216.76 725.03,217.00 721.98,219.72 722.99,223.88 719.70,221.54 716.41,223.88 717.42,219.72 714.37,217.00 718.29,216.76"/></g>
<path d="M129.4,234.2V228.9M129.4,42.5V48.3M186.8,234.2V228.9M186.8,42.5V48.3M244.2,234.2V228.9M244.2,42.5V48.3M301.6,234.2V228.9M301.6,42.5V48.3M72.0,188.7H77.5M359.6,188.7H354.1M72.0,143.0H77.5M359.6,143.0H354.1M72.0,97.4H77.5M359.6,97.4H354.1M72.0,51.7H77.5M359.6,51.7H354.1" stroke="#000" stroke-width="2.0" fill="none"/><rect x="72.0" y="42.5" width="287.6" height="191.7" fill="none" stroke="#000" stroke-width="2.0"/>
<path d="M499.5,234.2V228.9M499.5,42.5V48.3M556.9,234.2V228.9M556.9,42.5V48.3M614.2,234.2V228.9M614.2,42.5V48.3M671.6,234.2V228.9M671.6,42.5V48.3M442.3,195.9H447.8M729.5,195.9H724.0M442.3,157.6H447.8M729.5,157.6H724.0M442.3,119.2H447.8M729.5,119.2H724.0M442.3,80.8H447.8M729.5,80.8H724.0" stroke="#000" stroke-width="2.0" fill="none"/><rect x="442.3" y="42.5" width="287.2" height="191.8" fill="none" stroke="#000" stroke-width="2.0"/>
<text transform="translate(215.85,16.70) scale(1,1.080)" text-anchor="middle">NMC622/Artificial Graphite</text>
<text transform="translate(215.85,37.80) scale(1,1.080)" text-anchor="middle">40 °C; 3.0-4.2 V; C/3:C/3</text>
<text transform="translate(585.90,37.80) scale(1,1.080)" text-anchor="middle">C/20 Checkup Cycles</text>
<text transform="translate(61.30,240.50) scale(1,1.110)" text-anchor="end" style="font-size:18.2px">0.80</text>
<text transform="translate(61.30,194.85) scale(1,1.110)" text-anchor="end" style="font-size:18.2px">0.85</text>
<text transform="translate(61.30,149.20) scale(1,1.110)" text-anchor="end" style="font-size:18.2px">0.90</text>
<text transform="translate(61.30,103.55) scale(1,1.110)" text-anchor="end" style="font-size:18.2px">0.95</text>
<text transform="translate(61.30,57.90) scale(1,1.110)" text-anchor="end" style="font-size:18.2px">1.00</text>
<text transform="translate(431.30,240.45) scale(1,1.110)" text-anchor="end" style="font-size:18.2px">0.00</text>
<text transform="translate(431.30,202.10) scale(1,1.110)" text-anchor="end" style="font-size:18.2px">0.05</text>
<text transform="translate(431.30,163.75) scale(1,1.110)" text-anchor="end" style="font-size:18.2px">0.10</text>
<text transform="translate(431.30,125.40) scale(1,1.110)" text-anchor="end" style="font-size:18.2px">0.15</text>
<text transform="translate(431.30,87.05) scale(1,1.110)" text-anchor="end" style="font-size:18.2px">0.20</text>
<text transform="translate(431.30,48.70) scale(1,1.110)" text-anchor="end" style="font-size:18.2px">0.25</text>
<text transform="translate(72.00,259.60) scale(1,1.110)" text-anchor="middle" style="font-size:18.2px">0</text>
<text transform="translate(442.10,259.60) scale(1,1.110)" text-anchor="middle" style="font-size:18.2px">0</text>
<text transform="translate(129.40,259.60) scale(1,1.110)" text-anchor="middle" style="font-size:18.2px">100</text>
<text transform="translate(499.48,259.60) scale(1,1.110)" text-anchor="middle" style="font-size:18.2px">100</text>
<text transform="translate(186.80,259.60) scale(1,1.110)" text-anchor="middle" style="font-size:18.2px">200</text>
<text transform="translate(556.86,259.60) scale(1,1.110)" text-anchor="middle" style="font-size:18.2px">200</text>
<text transform="translate(244.20,259.60) scale(1,1.110)" text-anchor="middle" style="font-size:18.2px">300</text>
<text transform="translate(614.24,259.60) scale(1,1.110)" text-anchor="middle" style="font-size:18.2px">300</text>
<text transform="translate(301.60,259.60) scale(1,1.110)" text-anchor="middle" style="font-size:18.2px">400</text>
<text transform="translate(671.62,259.60) scale(1,1.110)" text-anchor="middle" style="font-size:18.2px">400</text>
<text transform="translate(359.00,259.60) scale(1,1.110)" text-anchor="middle" style="font-size:18.2px">500</text>
<text transform="translate(729.00,259.60) scale(1,1.110)" text-anchor="middle" style="font-size:18.2px">500</text>
<text transform="translate(215.50,281.30) scale(1,1.080)" text-anchor="middle">Cycle</text>
<text transform="translate(585.55,281.30) scale(1,1.080)" text-anchor="middle">Cycle</text>
<text x="344.6" y="67.6" text-anchor="middle" font-weight="bold">a</text>
<text x="713.7" y="67.6" text-anchor="middle" font-weight="bold">b</text>
<text transform="translate(17.2,141) rotate(-90) scale(1,1.07)" text-anchor="middle" style="font-size:18.45px">Normalized Capacity</text>
<text transform="translate(387.4,138.8) rotate(-90) scale(1,1.07)" text-anchor="middle" style="font-size:18.5px">ΔAreal Capacity (mAh/cm<tspan font-size="11" dy="-7">2</tspan><tspan dy="7">)</tspan></text>
<text transform="translate(222.60,312.00) scale(1,1.080)" text-anchor="start">Coin</text>
<text transform="translate(222.60,337.60) scale(1,1.080)" text-anchor="start">Stacked pouch</text>
<text transform="translate(399.00,312.00) scale(1,1.080)" text-anchor="start">Single-layer pouch with overhang</text>
<text transform="translate(399.00,337.60) scale(1,1.080)" text-anchor="start">Single-layer pouch no overhang</text>

<polygon points="-2.00,-8.00 2.00,-8.00 2.00,-2.00 8.00,-2.00 8.00,2.00 2.00,2.00 2.00,8.00 -2.00,8.00 -2.00,2.00 -8.00,2.00 -8.00,-2.00 -2.00,-2.00" transform="translate(198.4,305.6)" fill="#0000e8" stroke="#000018" stroke-width="1.2"/>
<path d="M198.6,324.9 L206.6,338.1 L190.6,338.1 Z" fill="#10c4f6" stroke="#000" stroke-width="1.1"/>
<polygon points="382.90,309.20 378.10,314.00 371.30,314.00 366.50,309.20 366.50,302.40 371.30,297.60 378.10,297.60 382.90,302.40" fill="#ff00ff" stroke="#100010" stroke-width="1.1"/>
<polygon points="0.00,-8.10 2.06,-2.83 7.70,-2.50 3.33,1.08 4.76,6.55 0.00,3.50 -4.76,6.55 -3.33,1.08 -7.70,-2.50 -2.06,-2.83" transform="translate(374.4,331.8)" fill="#1f8c3c" stroke="#000" stroke-width="1.1"/>

</svg>
</body></html>
